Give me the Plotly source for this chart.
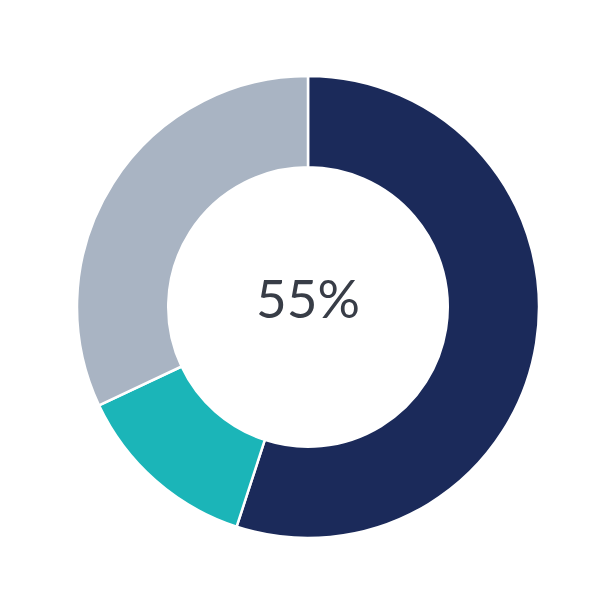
import plotly.graph_objects as go

labels = ["A", "B", "C"]
values = [55, 13, 32]
colors = ["#1b2a5a", "#1bb5b8", "#a9b4c3"]
center_text = "55%"

fig = go.Figure(go.Pie(
    labels=labels, values=values, hole=0.605, sort=False, direction="clockwise",
    rotation=0, marker=dict(colors=colors, line=dict(color="white", width=2.5)),
    textinfo="none", hoverinfo="label+percent", showlegend=False,
))
fig.add_annotation(text=center_text, x=0.5, y=0.5, xref="paper", yref="paper",
                   yshift=10, showarrow=False,
                   font=dict(family="Lato", size=53, color="#383d47"))
fig.update_layout(width=600, height=599, margin=dict(l=69, r=69, t=68, b=69),
                  paper_bgcolor="white", plot_bgcolor="white")
fig.write_html("out.html")
